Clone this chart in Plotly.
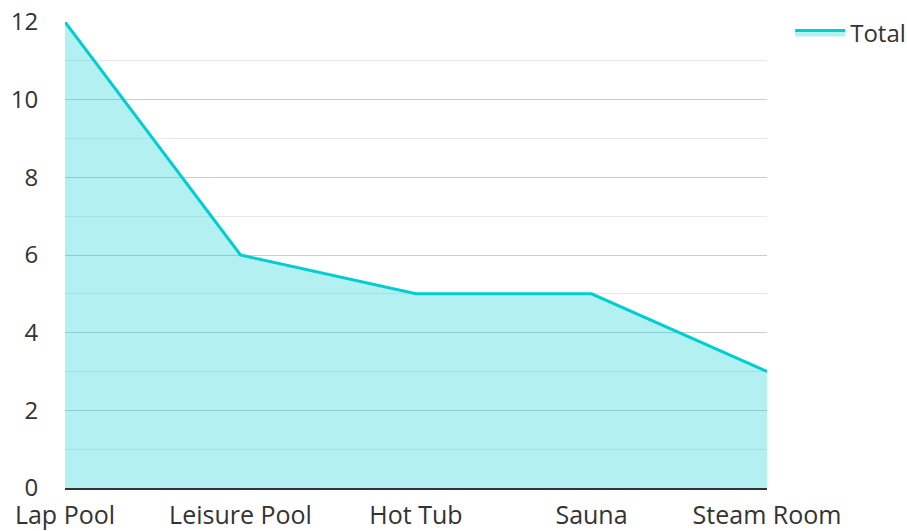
import plotly.graph_objects as go

categories = ["Lap Pool", "Leisure Pool", "Hot Tub", "Sauna", "Steam Room"]
totals = [12, 6, 5, 5, 3]
y_ticks = [0, 2, 4, 6, 8, 10, 12]

fig = go.Figure()
fig.add_trace(go.Scatter(
    x=categories, y=totals, name="Total", mode="lines",
    line=dict(color="#00CED1", width=3),
    fill="tozeroy", fillcolor="rgba(0,206,209,0.3)",
))

fig.update_layout(
    width=907, height=531,
    margin=dict(l=65, r=140, t=22, b=43, autoexpand=False),
    paper_bgcolor="white", plot_bgcolor="white",
    font=dict(family="Open Sans", size=25, color="#333333"),
    showlegend=True,
    legend=dict(x=1.033, y=1.025, xanchor="left", yanchor="top", itemwidth=50,
                font=dict(size=24, color="#333333"), bgcolor="rgba(0,0,0,0)"),
    xaxis=dict(
        type="category", range=[0, 4], showgrid=False, automargin=False,
        showline=True, linecolor="#333333", linewidth=2,
        ticks="outside", ticklen=4, tickcolor="rgba(0,0,0,0)",
        tickfont=dict(size=25, color="#333333"), ticklabeloverflow="allow",
    ),
    yaxis=dict(
        range=[0, 12], tickvals=y_ticks, showline=False, zeroline=False, automargin=False,
        gridcolor="#cccccc", gridwidth=1.3,
        ticks="outside", ticklen=21, tickcolor="rgba(0,0,0,0)",
        tickfont=dict(size=24, color="#333333"), ticklabeloverflow="allow",
        minor=dict(dtick=1, showgrid=True, gridcolor="#e8e8e8", gridwidth=1.3),
    ),
)

fig.write_html(
    "out.html",
    config={"displayModeBar": False},
    post_script="document.body.style.margin='0';document.body.style.overflow='hidden';",
)
